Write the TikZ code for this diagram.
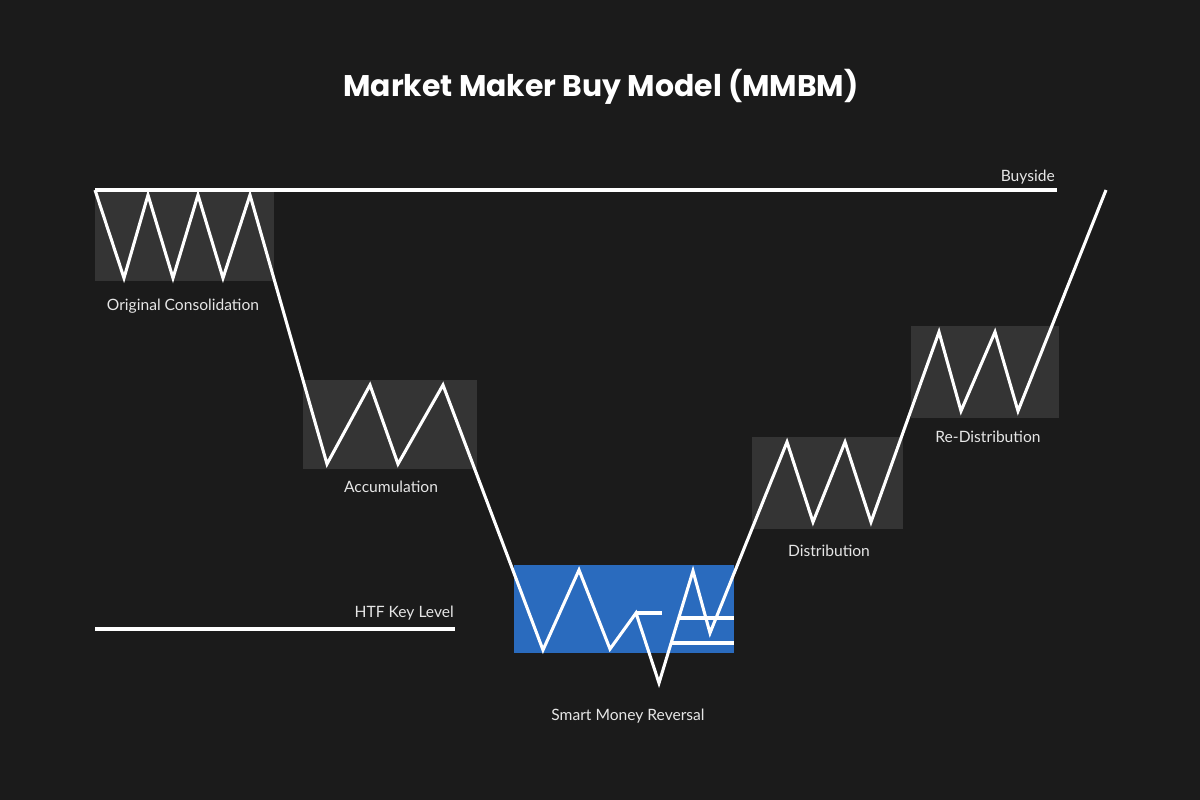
\documentclass[tikz,border=0pt]{standalone}
\usepackage{fontspec}
\setmainfont{Lato}
\newfontfamily\titlefont{Poppins}
\definecolor{bgc}{HTML}{1B1B1B}
\definecolor{boxc}{HTML}{343434}
\definecolor{bluec}{HTML}{2A6BBE}
\definecolor{txtc}{HTML}{E6E6E6}
\begin{document}
\begin{tikzpicture}[x=0.75pt,y=-0.75pt,
  zone/.style={fill=boxc,draw=none},
  pline/.style={draw=white,line width=2.3pt,line join=miter,miter limit=10},
  lvl/.style={draw=white,line width=2.3pt},
  lbl/.style={text=txtc,font=\fontsize{11.7}{14}\selectfont,inner sep=0pt}]
\useasboundingbox[fill=bgc] (0,0) rectangle (1200,800);
% zones
\fill[zone] (95,192) rectangle (274,281);
\fill[zone] (303,380) rectangle (477,469);
\fill[bluec] (514,565) rectangle (734,653);
\fill[zone] (752,437) rectangle (903,529);
\fill[zone] (911,326) rectangle (1059,418);
% levels
\coordinate (bs1) at (95,190);
\coordinate (bs2) at (1057,190);
\draw[lvl] (bs1) -- (bs2);
\coordinate (k1) at (95,629);
\coordinate (k2) at (455,629);
\draw[lvl] (k1) -- (k2);
% price path
\coordinate (p0) at (95,190);
\coordinate (p1) at (124,278);
\coordinate (p2) at (148,195);
\coordinate (p3) at (173,278);
\coordinate (p4) at (198,195);
\coordinate (p5) at (223,278);
\coordinate (p6) at (250,195);
\coordinate (p7) at (327,464);
\coordinate (p8) at (370,385);
\coordinate (p9) at (398,464);
\coordinate (p10) at (443,385);
\coordinate (p11) at (543,650);
\coordinate (p12) at (579,570);
\coordinate (p13) at (610,649);
\coordinate (p14) at (636,613);
\coordinate (p15) at (659,683);
\coordinate (p16) at (693,571);
\coordinate (p17) at (710,633);
\coordinate (p18) at (787,442);
\coordinate (p19) at (813,522);
\coordinate (p20) at (845,442);
\coordinate (p21) at (871,522);
\coordinate (p22) at (939,332);
\coordinate (p23) at (961,411);
\coordinate (p24) at (995,332);
\coordinate (p25) at (1018,411);
\coordinate (p26) at (1106,190);
\draw[pline] (p0) -- (p1) -- (p2) -- (p3) -- (p4) -- (p5) -- (p6) -- (p7) -- (p8) -- (p9) -- (p10) -- (p11) -- (p12) -- (p13) -- (p14) -- (p15) -- (p16) -- (p17) -- (p18) -- (p19) -- (p20) -- (p21) -- (p22) -- (p23) -- (p24) -- (p25) -- (p26);
% reversal details
\coordinate (h1) at (662,613);
\draw[lvl] (p14) -- (h1);
\coordinate (h2a) at (679,618);
\coordinate (h2b) at (734,618);
\draw[lvl] (h2a) -- (h2b);
\coordinate (h3a) at (671,643);
\coordinate (h3b) at (734,643);
\draw[lvl] (h3a) -- (h3b);
% labels
\node[text=white,font=\titlefont\bfseries\fontsize{22.4}{26}\selectfont] (title) at (601,87) {Market Maker Buy Model (MMBM)};
\node[lbl] (oc) at (183,306) {Original Consolidation};
\node[lbl] (acc) at (391,487) {Accumulation};
\node[lbl] (smr) at (628,716) {Smart Money Reversal};
\node[lbl] (dis) at (829,551) {Distribution};
\node[lbl] (rd) at (988,437) {Re-Distribution};
\node[lbl,anchor=east] (htf) at (454,613) {HTF Key Level};
\node[lbl,anchor=east] (buy) at (1055,177) {Buyside};
\end{tikzpicture}
\end{document}
